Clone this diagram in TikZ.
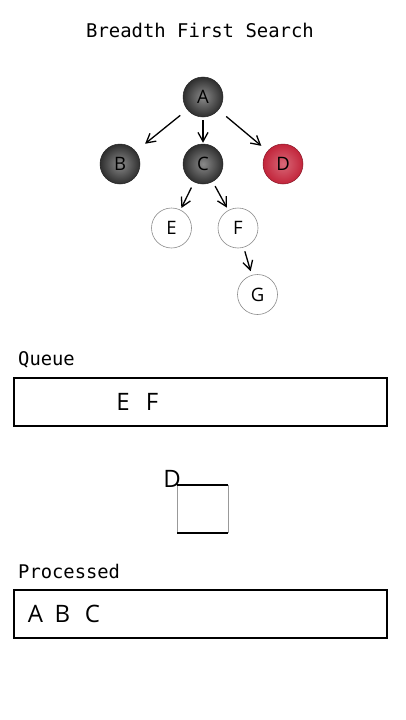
\documentclass[tikz,border=0pt]{standalone}
\usepackage{fontspec}
\setmainfont{Open Sans}
\newfontfamily\monofont{DejaVu Sans Mono}
\usetikzlibrary{arrows.meta}
\definecolor{ballin}{HTML}{8A8A8A}
\definecolor{ballout}{HTML}{2E2E2E}
\definecolor{redin}{HTML}{D86878}
\definecolor{redout}{HTML}{C2243A}
\tikzset{
  ball/.style={circle, minimum size=40pt, inner sep=0pt, draw=black!85, line width=0.5pt,
    inner color=ballin, outer color=ballout, font=\fontsize{18.5}{20}\selectfont},
  redball/.style={ball, draw=redout!70!black, inner color=redin, outer color=redout},
  whiteball/.style={circle, minimum size=40pt, inner sep=0pt, draw=black!45, line width=0.6pt,
    fill=white, font=\fontsize{18.5}{20}\selectfont},
  edge/.style={line width=1.3pt, -{Straight Barb[length=9pt,width=10pt,line width=1.3pt]}},
  heading/.style={font=\monofont\fontsize{18.8}{20}\selectfont, anchor=base west, inner sep=0pt},
  bigletter/.style={font=\fontsize{24}{26}\selectfont, inner sep=0pt},
  listbox/.style={draw=black, line width=2.8pt}
}
\begin{document}
\begin{tikzpicture}[x=1pt,y=-1pt]
\useasboundingbox[fill=white] (0,0) rectangle (405,720);
\node[font=\monofont\fontsize{18.9}{20}\selectfont] (title) at (200,30) {Breadth First Search};
% tree
\node[ball] (A) at (203,97) {A};
\node[ball] (B) at (120,164) {B};
\node[ball] (C) at (203,164) {C};
\node[redball] (D) at (283,164) {D};
\node[whiteball] (E) at (171.5,228) {E};
\node[whiteball] (F) at (238,228) {F};
\node[whiteball] (G) at (257.5,294.5) {G};
\draw[edge, shorten <=9pt, shorten >=12pt] (A) -- (B);
\draw[edge, shorten <=3pt, shorten >=1pt] (A) -- (C);
\draw[edge, shorten <=10pt, shorten >=8pt] (A) -- (D);
\draw[edge, shorten <=6pt, shorten >=2pt] (C) -- (E);
\draw[edge, shorten <=5pt, shorten >=3pt] (C) -- (F);
\draw[edge, shorten <=4pt, shorten >=4pt] (F) -- (G);
% queue
\node[heading] (qlabel) at (18,365) {Queue};
\draw[listbox] (14,378) rectangle (387,426);
\node[bigletter] (qE) at (123,401.5) {E};
\node[bigletter] (qF) at (152,401.5) {F};
% moving item
\node[bigletter] (mD) at (172,478.5) {D};
\draw[black!40, line width=0.6pt] (177,485) -- (177,533) (228,485) -- (228,533);
\draw[line width=2.6pt] (177,485) -- (228,485) (177,533) -- (228,533);
% processed
\node[heading] (plabel) at (18,578) {Processed};
\draw[listbox] (14,590) rectangle (387,638);
\node[bigletter] (pA) at (35.5,613.5) {A};
\node[bigletter] (pB) at (62.5,613.5) {B};
\node[bigletter] (pC) at (92.5,613.5) {C};
\end{tikzpicture}
\end{document}
